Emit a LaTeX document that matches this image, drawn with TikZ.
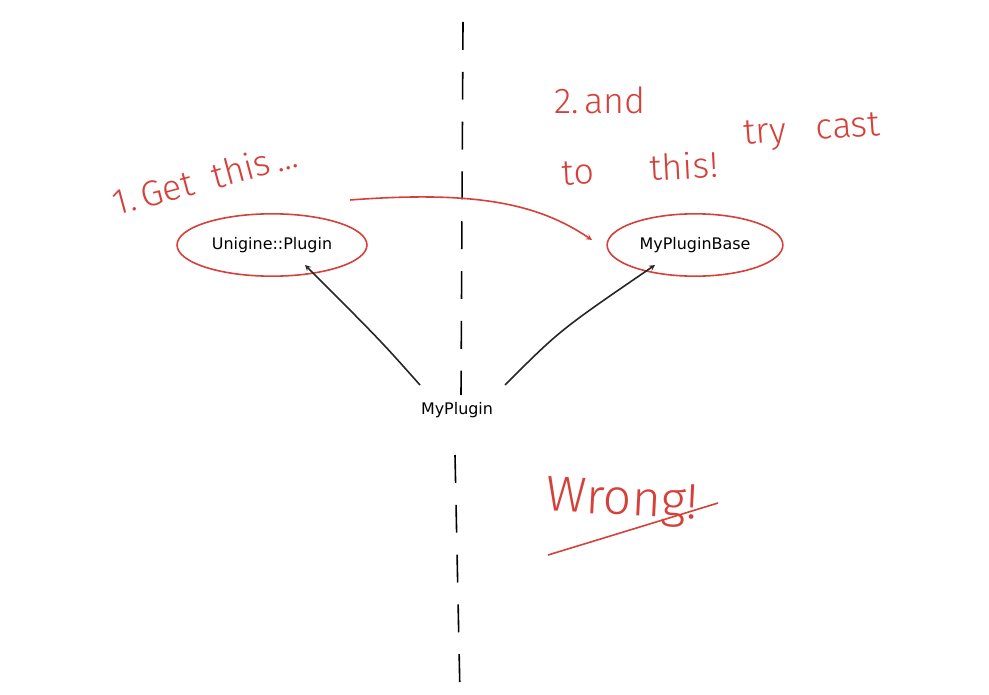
\documentclass[tikz,border=0pt]{standalone}
\usepackage{fontspec}
\setmainfont{DejaVu Sans}
\newfontfamily\handfont{Fira Sans Light}
\usetikzlibrary{positioning}
\usetikzlibrary{shapes.geometric}
\definecolor{pen}{RGB}{214,64,58}
\tikzset{
  lbl/.style={font=\fontsize{16}{18}\selectfont},
  loop/.style={draw=pen,line width=1.6pt,ellipse,minimum width=#1,minimum height=2.2cm},
  hand/.style={text=pen,font=\handfont\fontsize{36}{38}\selectfont},
  inh/.style={-stealth,line width=1.6pt,black!85},
}
\begin{document}
\begin{tikzpicture}[x=0.0352778cm,y=-0.0352778cm]
\useasboundingbox[fill=white] (0,0) rectangle (989,695);

\draw[line width=1.6pt,dash pattern=on 28pt off 22pt] (463,22) -- (461,395);
\draw[line width=1.6pt,dash pattern=on 28pt off 22pt] (455,455) -- (460,695);

\node[lbl] (uplug) at (272,245) {Unigine::Plugin};
\node[lbl] (base) at (695,245) {MyPluginBase};
\node[lbl] (mine) at (457,410) {MyPlugin};

\node[loop=6.7cm] (uloop) at (uplug) {};
\node[loop=6.2cm] (bloop) at (base) {};

\draw[inh] (420,385) .. controls (380,340) .. (305,265);
\draw[inh] (505,385) .. controls (560,330) .. (655,265);
\draw[pen,line width=1.6pt,-stealth] (350,200) .. controls (480,190) and (540,205) .. (592,240);

\node[hand,rotate=15] (get) at (205,178) {1.\,Get\; this\,...};
\node[hand] (and) at (600,100) {2.\,and};
\node[hand,rotate=4] (cast) at (812,132) {try\;\; cast};
\node[hand,rotate=3] (tothis) at (640,168) {to\quad\; this!};
\node[hand,font=\handfont\fontsize{50}{52}\selectfont,rotate=-3] (wrong) at (622,503) {Wrong!};
\draw[pen,line width=1.6pt] (548,555) .. controls (630,530) .. (718,503);
\end{tikzpicture}
\end{document}
